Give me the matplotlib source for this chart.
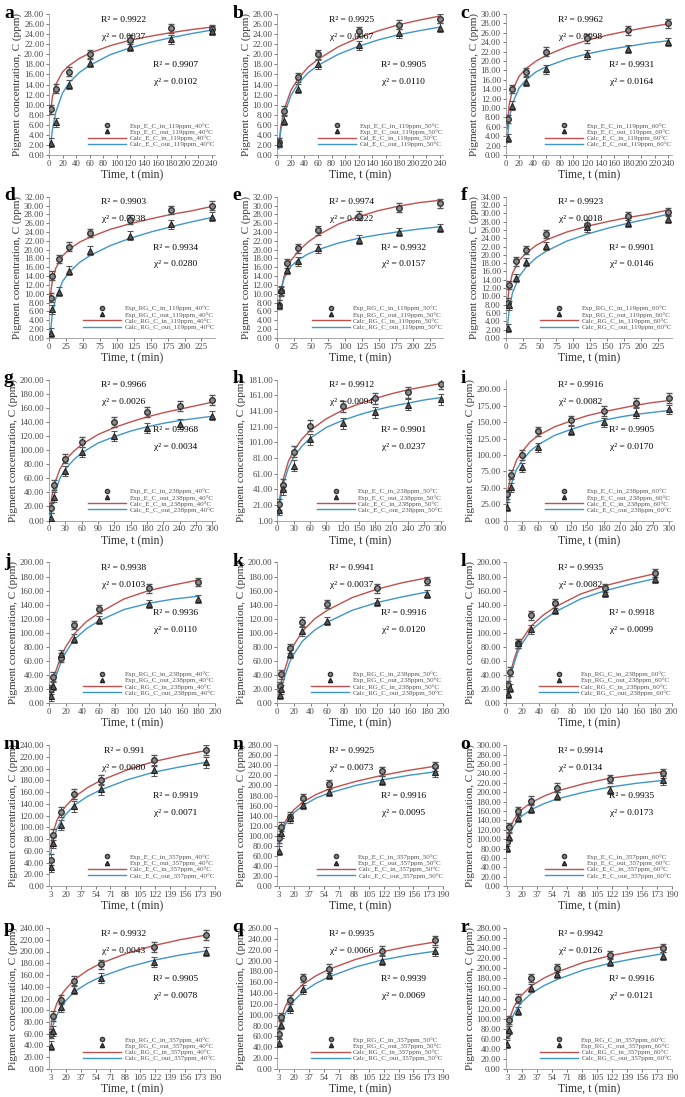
import numpy as np
import matplotlib.pyplot as plt

plt.rcParams['font.family'] = ['Liberation Serif', 'DejaVu Serif']

# ---- times ----
t_e119 = [3, 10, 30, 60, 120, 180, 240]
t_rg119 = [3, 5, 15, 30, 60, 120, 180, 240]
t_e238 = [3, 10, 30, 60, 120, 180, 240, 300]
t_rg238 = [3, 5, 15, 30, 60, 120, 180]
t_357 = [3, 5, 15, 30, 60, 120, 180]

tc_240 = [2, 5, 10, 20, 30, 45, 60, 90, 120, 150, 180, 210, 240]
tc_300 = [2, 5, 10, 20, 30, 45, 60, 90, 120, 150, 180, 210, 240, 270, 300]
tc_180 = [2, 5, 10, 15, 20, 30, 45, 60, 90, 120, 150, 180]
tc_357 = [3, 5, 10, 15, 20, 30, 45, 60, 90, 120, 150, 180]

# ---- experimental values (in / out) ----
exp_in_a = [9.1, 13.2, 16.5, 20.0, 22.9, 25.2, 25.0]
exp_out_a = [2.4, 6.5, 14.0, 18.3, 21.5, 23.0, 24.7]
exp_in_b = [2.5, 8.8, 15.4, 20.0, 24.6, 25.9, 27.1]
exp_out_b = [2.4, 6.8, 13.2, 18.0, 21.8, 24.2, 25.3]
exp_in_c = [7.7, 14.0, 17.7, 22.0, 24.8, 26.5, 28.0]
exp_out_c = [3.6, 10.5, 15.6, 18.2, 21.4, 22.5, 24.0]
exp_in_d = [9.1, 14.1, 17.9, 20.7, 23.8, 26.8, 29.0, 30.0]
exp_out_d = [1.2, 6.5, 10.5, 15.2, 19.8, 23.2, 25.8, 27.5]
exp_in_e = [7.5, 10.6, 16.9, 20.3, 24.4, 27.7, 29.5, 30.5]
exp_out_e = [7.5, 10.8, 15.5, 17.4, 20.3, 22.3, 24.0, 24.9]
exp_in_f = [8.5, 12.8, 18.4, 21.2, 25.0, 27.3, 29.4, 30.3]
exp_out_f = [2.3, 7.8, 14.5, 18.2, 22.2, 26.6, 27.8, 28.6]
exp_in_g = [18, 50, 88, 112, 140, 154, 162, 171]
exp_out_g = [4, 34, 70, 97, 120, 131, 137, 149]
exp_in_h = [22, 47, 89, 122, 147, 157, 165, 176]
exp_out_h = [15, 41, 71, 105, 125, 139, 149, 156]
exp_in_i = [40, 70, 100, 136, 153, 167, 180, 187]
exp_out_i = [21, 51, 81, 112, 137, 150, 164, 170]
exp_in_j = [20, 38, 65, 111, 134, 163, 172]
exp_out_j = [10, 25, 70, 92, 118, 141, 148]
exp_in_k = [25, 41, 78, 116, 141, 163, 174]
exp_out_k = [12, 20, 70, 102, 117, 144, 155]
exp_in_l = [26, 45, 85, 125, 142, 164, 185]
exp_out_l = [14, 22, 85, 105, 133, 157, 177]
exp_in_m = [45, 88, 126, 157, 181, 214, 232]
exp_out_m = [33, 74, 104, 136, 165, 197, 211]
exp_in_n = [95, 118, 138, 175, 202, 228, 238]
exp_out_n = [70, 105, 135, 162, 188, 209, 226]
exp_in_o = [95, 125, 160, 182, 210, 228, 240]
exp_out_o = [82, 105, 145, 165, 192, 205, 225]
exp_in_p = [60, 90, 118, 150, 178, 208, 228]
exp_out_p = [40, 65, 105, 135, 155, 182, 200]
exp_in_q = [65, 96, 128, 168, 185, 218, 237]
exp_out_q = [48, 82, 112, 147, 174, 200, 217]
exp_in_r = [70, 97, 140, 180, 200, 227, 240]
exp_out_r = [50, 78, 115, 160, 188, 213, 225]

# ---- calculated curves (in / out) ----
calc_in_a = [8.0, 11.5, 14.0, 16.5, 17.8, 19.2, 20.2, 21.7, 22.8, 23.6, 24.3, 24.9, 25.4]
calc_out_a = [1.5, 5.0, 8.5, 12.3, 14.4, 16.4, 17.8, 19.9, 21.3, 22.4, 23.3, 24.1, 24.8]
calc_in_b = [1.5, 5.5, 9.0, 12.8, 15.0, 17.4, 19.0, 21.5, 23.3, 24.7, 25.9, 26.8, 27.6]
calc_out_b = [1.2, 4.8, 8.0, 11.8, 14.0, 16.3, 17.8, 20.0, 21.6, 22.9, 23.9, 24.7, 25.4]
calc_in_c = [5.5, 10.5, 13.8, 16.8, 18.4, 20.0, 21.2, 23.0, 24.4, 25.5, 26.4, 27.2, 27.9]
calc_out_c = [2.5, 7.5, 11.0, 14.3, 16.0, 17.7, 18.8, 20.4, 21.5, 22.4, 23.1, 23.8, 24.3]
calc_in_d = [9.5, 13.0, 15.8, 18.6, 20.1, 21.7, 22.8, 24.6, 25.9, 27.0, 28.0, 28.8, 29.8]
calc_out_d = [1.0, 5.5, 9.0, 12.8, 14.9, 17.1, 18.6, 20.9, 22.6, 24.0, 25.2, 26.3, 27.3]
calc_in_e = [6.5, 10.5, 14.0, 17.5, 19.5, 21.7, 23.3, 25.8, 27.5, 28.9, 29.9, 30.7, 31.2]
calc_out_e = [6.5, 10.5, 13.5, 16.2, 17.6, 19.0, 20.0, 21.5, 22.6, 23.4, 24.1, 24.7, 25.2]
calc_in_f = [7.0, 12.0, 15.5, 18.7, 20.4, 22.3, 23.6, 25.5, 26.9, 28.0, 29.0, 29.8, 30.8]
calc_out_f = [1.5, 6.5, 10.8, 14.8, 17.0, 19.3, 20.9, 23.3, 25.0, 26.4, 27.6, 28.7, 29.8]
calc_in_g = [12, 33, 52, 73, 86, 98, 108, 122, 132, 140, 147, 153, 158, 163, 168]
calc_out_g = [4, 20, 38, 60, 73, 86, 96, 110, 119, 127, 133, 138, 142, 145, 148]
calc_in_h = [12, 32, 52, 76, 90, 105, 116, 131, 142, 150, 157, 163, 168, 172, 176]
calc_out_h = [8, 26, 45, 68, 82, 96, 106, 120, 129, 136, 142, 147, 151, 155, 158]
calc_in_i = [28, 50, 70, 92, 105, 120, 130, 143, 152, 160, 166, 171, 176, 180, 183]
calc_out_i = [15, 35, 55, 78, 91, 106, 116, 130, 139, 147, 153, 158, 162, 165, 168]
calc_in_j = [12, 35, 52, 68, 80, 98, 116, 128, 148, 160, 168, 175]
calc_out_j = [6, 26, 44, 60, 72, 90, 106, 117, 133, 142, 148, 152]
calc_in_k = [12, 32, 52, 70, 83, 102, 120, 132, 150, 162, 171, 178]
calc_out_k = [6, 22, 42, 59, 70, 88, 104, 115, 132, 143, 151, 158]
calc_in_l = [12, 40, 62, 80, 91, 109, 125, 137, 155, 167, 176, 184]
calc_out_l = [10, 35, 56, 74, 85, 103, 118, 130, 148, 160, 169, 177]
calc_in_m = [65, 88, 112, 126, 136, 152, 168, 180, 198, 212, 222, 231]
calc_out_m = [55, 75, 98, 112, 122, 138, 153, 164, 181, 194, 203, 211]
calc_in_n = [85, 105, 128, 142, 152, 167, 182, 193, 208, 220, 230, 238]
calc_out_n = [80, 100, 122, 136, 146, 160, 175, 185, 200, 211, 220, 227]
calc_in_o = [100, 120, 140, 155, 164, 178, 192, 203, 218, 230, 237, 243]
calc_out_o = [90, 108, 128, 141, 150, 163, 176, 186, 200, 211, 219, 225]
calc_in_p = [70, 90, 112, 126, 136, 152, 168, 180, 197, 210, 220, 228]
calc_out_p = [55, 72, 92, 106, 116, 132, 146, 157, 173, 185, 194, 201]
calc_in_q = [70, 92, 115, 130, 140, 156, 172, 184, 202, 216, 226, 234]
calc_out_q = [60, 80, 102, 116, 126, 142, 158, 170, 188, 201, 210, 217]
calc_in_r = [75, 98, 122, 137, 148, 165, 181, 193, 212, 225, 235, 243]
calc_out_r = [65, 86, 108, 123, 134, 150, 166, 178, 197, 210, 220, 229]

# ---- fit statistics ----
r2_in = ['0.9922', '0.9925', '0.9962', '0.9903', '0.9974', '0.9923', '0.9966', '0.9912', '0.9916',
         '0.9938', '0.9941', '0.9935', '0.991', '0.9925', '0.9914', '0.9932', '0.9935', '0.9942']
chi_in = ['0.0037', '0.0067', '0.0098', '0.0338', '0.0022', '0.0018', '0.0026', '0.0094', '0.0082',
          '0.0103', '0.0037', '0.0082', '0.0080', '0.0073', '0.0134', '0.0043', '0.0066', '0.0126']
r2_out = ['0.9907', '0.9905', '0.9931', '0.9934', '0.9932', '0.9901', '0.9968', '0.9901', '0.9905',
          '0.9936', '0.9916', '0.9918', '0.9919', '0.9916', '0.9935', '0.9905', '0.9939', '0.9916']
chi_out = ['0.0102', '0.0110', '0.0164', '0.0280', '0.0157', '0.0146', '0.0034', '0.0237', '0.0170',
           '0.0110', '0.0120', '0.0099', '0.0071', '0.0095', '0.0173', '0.0078', '0.0069', '0.0121']

letters = list('abcdefghijklmnopqr')
temps = ['40', '50', '60']
row_method = ['E', 'RG', 'E', 'RG', 'E', 'RG']
row_conc = ['119', '119', '238', '238', '357', '357']
err_size = [0.9, 0.9, 0.9, 1.0, 1.0, 1.0, 7, 7, 7, 6, 6, 6, 9, 9, 9, 8, 8, 8]

exp_t = [t_e119] * 3 + [t_rg119] * 3 + [t_e238] * 3 + [t_rg238] * 3 + [t_357] * 6
calc_t = [tc_240] * 6 + [tc_300] * 3 + [tc_180] * 3 + [tc_357] * 6
g = globals()

y_max = [28, 28, 30, 32, 32, 34, 200, 181, 200, 200, 200, 200, 240, 280, 300, 240, 260, 280]
y_step = [2, 2, 2, 2, 2, 2, 20, 20, 25, 20, 20, 20, 20, 20, 20, 20, 20, 20]
y_min = [0] * 7 + [1] + [0] * 10

RED = '#c0504d'
BLUE = '#3f96c6'

W, H = 685, 1097
fig = plt.figure(figsize=(W / 100, H / 100), dpi=100)
pw, ph = W / 3, 182.8

for k, L in enumerate(letters):
    row, col = divmod(k, 3)
    x0, y0 = col * pw, row * ph
    ax = fig.add_axes([(x0 + 49) / W, 1 - (y0 + 155) / H, 166 / W, 141 / H])
    te = exp_t[k]
    tc = calc_t[k]
    ax.plot(tc, g['calc_in_' + L], color=RED, lw=1.0, zorder=2)
    ax.plot(tc, g['calc_out_' + L], color=BLUE, lw=1.0, zorder=2)
    ax.errorbar(te, g['exp_in_' + L], yerr=err_size[k], fmt='o', ms=4, mfc='#8a8a8a', mec='#333333',
                mew=1.0, ecolor='#555555', elinewidth=0.7, capsize=2.5, zorder=3)
    ax.errorbar(te, g['exp_out_' + L], yerr=err_size[k], fmt='^', ms=4, mfc='#555555', mec='#222222',
                mew=0.8, ecolor='#555555', elinewidth=0.7, capsize=2.5, zorder=3)

    yt = np.arange(y_min[k], y_max[k] + 0.01, y_step[k])
    ax.set_yticks(yt)
    ax.set_yticklabels([f'{v:.2f}' for v in yt])
    top = y_max[k] + (15 if k == 8 else 0)
    ax.set_ylim(y_min[k], top)
    if row == 0:
        xt = np.arange(0, 241, 20); ax.set_xlim(0, 245)
    elif row == 1:
        xt = np.arange(0, 226, 25); ax.set_xlim(0, 245)
    elif row == 2:
        xt = np.arange(0, 301, 30); ax.set_xlim(0, 305)
    elif row == 3:
        xt = np.arange(0, 201, 20); ax.set_xlim(0, 200)
    else:
        xt = np.arange(3, 191, 17); ax.set_xlim(1, 190)
    ax.set_xticks(xt)
    ax.tick_params(labelsize=6.3, length=2, width=0.5, colors='#444444', pad=1.5)
    for s in ['top', 'right']:
        ax.spines[s].set_visible(False)
    for s in ['left', 'bottom']:
        ax.spines[s].set_color('#999999')
        ax.spines[s].set_linewidth(0.6)
    ax.set_xlabel('Time, t (min)', fontsize=8.5, color='#333333', labelpad=1)
    ax.set_ylabel('Pigment concentration, C (ppm)', fontsize=8, color='#333333', labelpad=1)

    ax.text(0.45, 0.96, f'R² = {r2_in[k]}', transform=ax.transAxes, fontsize=6.8, ha='center', va='center')
    ax.text(0.45, 0.84, f'χ² = {chi_in[k]}', transform=ax.transAxes, fontsize=6.8, ha='center', va='center')
    ax.text(0.76, 0.64, f'R² = {r2_out[k]}', transform=ax.transAxes, fontsize=6.8, ha='center', va='center')
    ax.text(0.76, 0.52, f'χ² = {chi_out[k]}', transform=ax.transAxes, fontsize=6.8, ha='center', va='center')

    m, c, T = row_method[row], row_conc[row], temps[col]
    calc_word = 'Cal' if L == 'b' else 'Calc'
    labels = [f'Exp_{m}_C_in_{c}ppm_{T}°C', f'Exp_{m}_C_out_{c}ppm_{T}°C',
              f'{calc_word}_{m}_C_in_{c}ppm_{T}°C', f'{calc_word}_{m}_C_out_{c}ppm_{T}°C']
    h1 = plt.Line2D([], [], ls='none', marker='o', ms=3, mfc='#8a8a8a', mec='#333333')
    h2 = plt.Line2D([], [], ls='none', marker='^', ms=3, mfc='#555555', mec='#222222')
    h3 = plt.Line2D([], [], color=RED, lw=1.0)
    h4 = plt.Line2D([], [], color=BLUE, lw=1.0)
    ax.legend([h1, h2, h3, h4], labels, loc='lower right', bbox_to_anchor=(1.03, 0.02),
              fontsize=5.0, frameon=False, handlelength=5.5, handletextpad=0.5,
              labelspacing=0.05, borderpad=0.2, labelcolor='#555555')

    fig.text((x0 + 4) / W, 1 - (y0 + 13) / H, L, fontsize=14, fontweight='bold', ha='left', va='center')

fig.savefig('out.png', dpi=100)
